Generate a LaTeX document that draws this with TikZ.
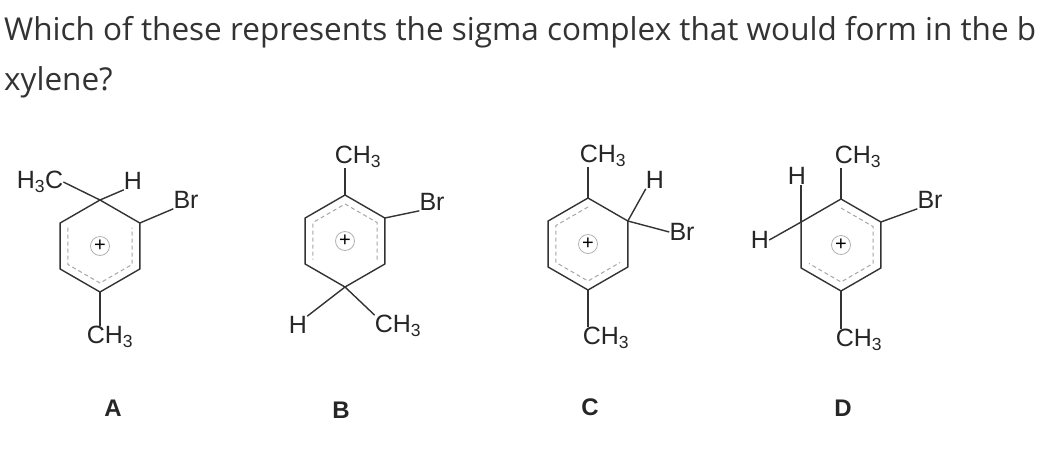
\documentclass[tikz,border=0pt]{standalone}
\usepackage{fontspec}
\setmainfont{Open Sans}
\newfontfamily\chemf{Liberation Sans}
\usetikzlibrary{calc}
\tikzset{
  bond/.style={line width=1.4pt,black!80},
  deloc/.style={line width=1pt,gray!70,dash pattern=on 4pt off 3pt},
  lab/.style={font=\chemf\fontsize{25}{25}\selectfont,inner sep=0pt,text=black!85},
  tag/.style={font=\chemf\bfseries\fontsize{24}{24}\selectfont,inner sep=0pt,text=black!85},
}
\newcommand{\sub}[1]{\textsubscript{#1}}
\newcommand{\myring}[3]{% name, x, y
  \foreach \i/\a in {1/90,2/150,3/210,4/270,5/330,6/30}{
    \coordinate (#1\i) at ($(#2,#3)+(-\a:46)$);
    \coordinate (#1i\i) at ($(#2,#3)+(-\a:37)$);
  }
  \draw[bond] (#11)--(#12)--(#13)--(#14)--(#15)--(#16)--cycle;
  \node[circle,draw=gray!60,line width=0.8pt,minimum size=19pt,inner sep=0pt,font=\chemf\fontsize{20}{20}\selectfont] (#1p) at (#2,#3) {+};
}
\begin{document}
\begin{tikzpicture}[x=1pt,y=-1pt]
\useasboundingbox (0,0) rectangle (1056,456);
\fill[white] (0,0) rectangle (1056,456);
\node[anchor=west,inner sep=0pt,font=\fontsize{31.5}{31.5}\selectfont,text=black!80] (q1) at (4,32) {Which of these represents the sigma complex that would form in the b};
\node[anchor=west,inner sep=0pt,font=\fontsize{31.5}{31.5}\selectfont,text=black!80] (q2) at (4,82) {xylene?};
% A
\myring{a}{100}{246}
\draw[deloc] (ai2)--(ai3)--(ai4)--(ai5)--(ai6);
\node[lab] (aMe) at (40,182) {H\sub{3}C};
\node[lab] (aH) at (133,181) {H};
\node[lab] (aBr) at (186,200) {Br};
\node[lab] (aMe2) at (110,337) {CH\sub{3}};
\draw[bond] (a1)--(aMe.east);
\draw[bond] (a1)--(aH.south west);
\draw[bond] (a6)--(aBr.south west);
\draw[bond] (a4)--(a4 |- aMe2.north);
\node[tag] (tA) at (113,408) {A};
% B
\myring{b}{345}{241}
\draw[deloc] (bi5)--(bi6)--(bi1)--(bi2)--(bi3);
\node[lab] (bMe) at (358,157) {CH\sub{3}};
\node[lab] (bBr) at (432,202) {Br};
\node[lab] (bH) at (298,325) {H};
\node[lab] (bMe2) at (398,326) {CH\sub{3}};
\draw[bond] (b1)--(bMe.south -| b1);
\draw[bond] (b6)--(bBr.south west);
\draw[bond] (b4)--(bH.north east);
\draw[bond] (b4)--(bMe2.north west);
\node[tag] (tB) at (341,410) {B};
% C
\myring{c}{588}{244}
\draw[deloc] (ci1)--(ci2)--(ci3)--(ci4)--(ci5);
\node[lab] (cMe) at (603,156) {CH\sub{3}};
\node[lab] (cH) at (655,180) {H};
\node[lab] (cBr) at (682,232) {Br};
\node[lab] (cMe2) at (606,338) {CH\sub{3}};
\draw[bond] (c1)--(cMe.south -| c1);
\draw[bond] (c6)--(cH.south west);
\draw[bond] (c6)--(cBr.west);
\draw[bond] (c4)--(c4 |- cMe2.north);
\node[tag] (tC) at (590,407) {C};
% D
\myring{d}{841}{245}
\draw[deloc] (di1)--(di6)--(di5)--(di4)--(di3);
\node[lab] (dMe) at (858,157) {CH\sub{3}};
\node[lab] (dH) at (797,176) {H};
\node[lab] (dH2) at (760,240) {H};
\node[lab] (dBr) at (930,200) {Br};
\node[lab] (dMe2) at (859,340) {CH\sub{3}};
\draw[bond] (d1)--(dMe.south -| d1);
\draw[bond] (d2)--(dH.south -| d2);
\draw[bond] (d2)--(dH2.east);
\draw[bond] (d6)--(dBr.south west);
\draw[bond] (d4)--(d4 |- dMe2.north);
\node[tag] (tD) at (843,408) {D};
\end{tikzpicture}
\end{document}
